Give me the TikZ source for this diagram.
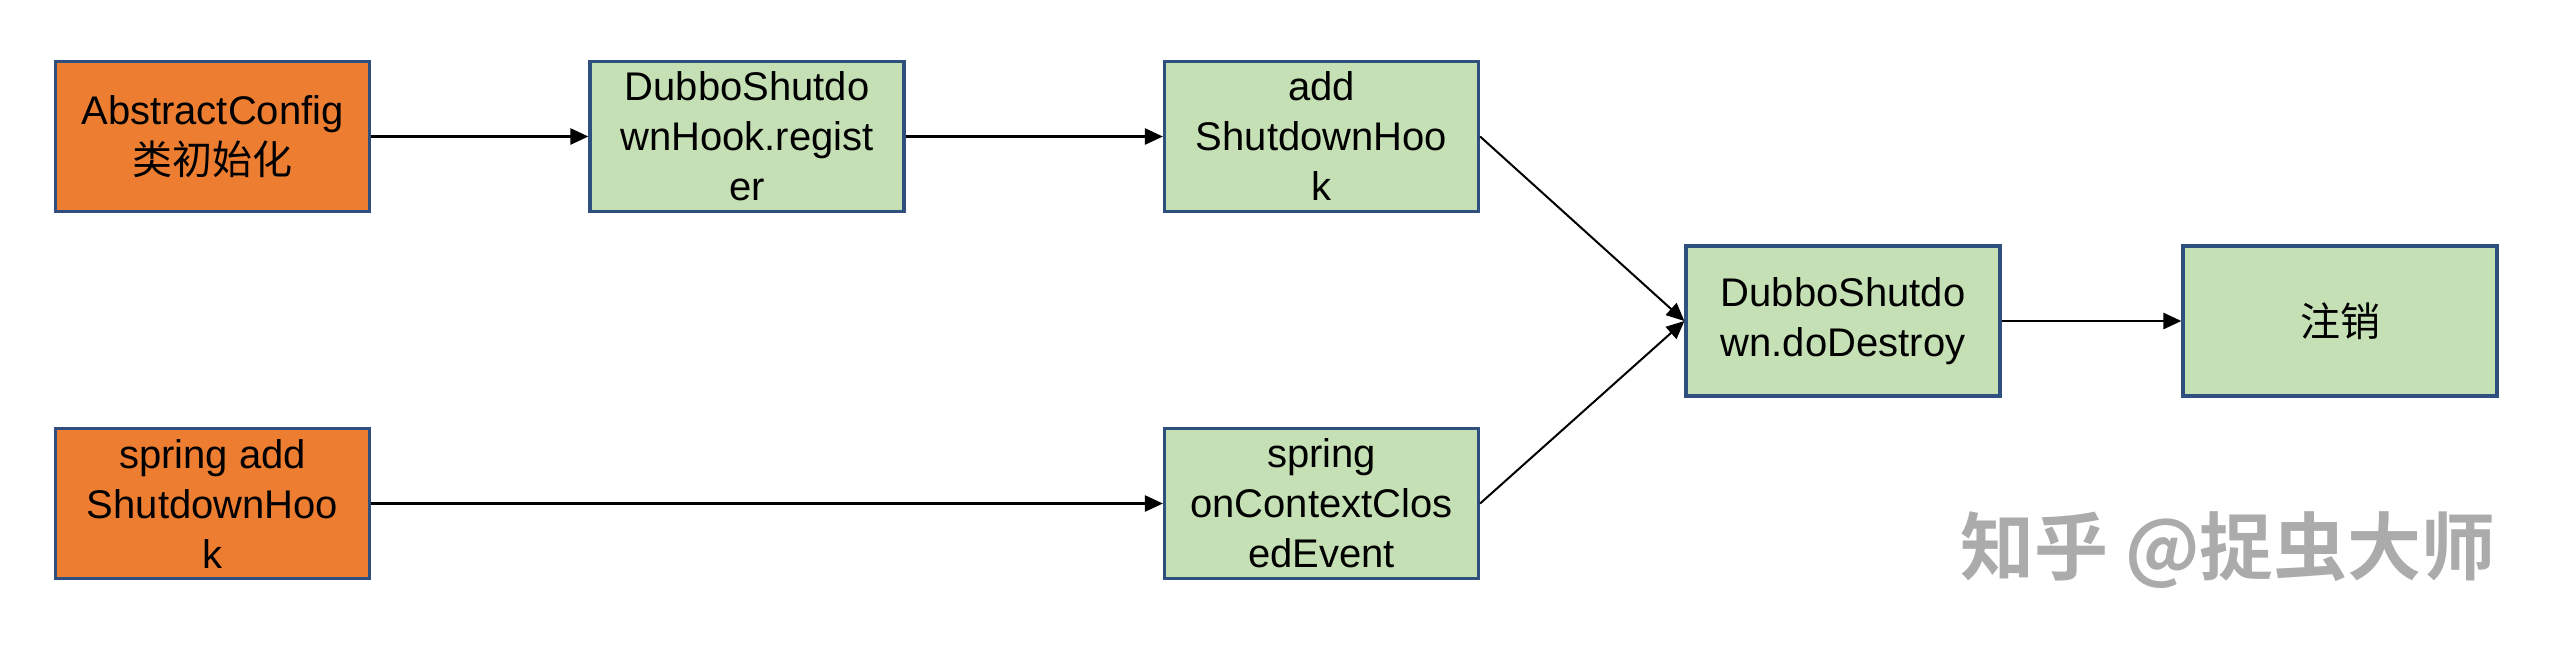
\documentclass[tikz,border=0pt]{standalone}
\usepackage{fontspec}
\setmainfont{Liberation Sans}
\newfontfamily\cjk{Noto Sans CJK SC}
\newfontfamily\cjkb{Noto Sans CJK SC Bold}
\usetikzlibrary{arrows.meta}
\definecolor{boxorange}{HTML}{ED7D31}
\definecolor{boxgreen}{HTML}{C5E0B4}
\definecolor{boxborder}{HTML}{2F4F7F}
\tikzset{
  base/.style={draw=boxborder, line width=1.6pt, minimum width=157pt, minimum height=75pt,
    align=center, inner sep=2pt, font=\fontsize{20}{25}\selectfont},
  orangebox/.style={base, fill=boxorange},
  greenbox/.style={base, fill=boxgreen},
  conn/.style={line width=1.3pt, -{Triangle[length=9pt,width=8pt]}},
  diag/.style={line width=1pt, -{Triangle[length=9pt,width=8pt]}}
}
\begin{document}
\begin{tikzpicture}[x=0.5pt,y=-0.5pt]
\useasboundingbox (0,0) rectangle (2570,654);
\node[orangebox] (a) at (212.5,136.5) {AbstractConfig\\{\cjk 类初始化}};
\node[greenbox] (b) at (747,136.5) {DubboShutdo\\wnHook.regist\\er};
\node[greenbox] (c) at (1321.5,136.5) {add\\ShutdownHoo\\k};
\node[orangebox] (d) at (212.5,503.5) {spring add\\ShutdownHoo\\k};
\node[greenbox] (e) at (1321.5,503.5) {spring\\onContextClos\\edEvent};
\node[greenbox] (f) at (1843,321) {DubboShutdo\\wn.doDestroy};
\node[greenbox] (g) at (2340,321) {\cjk 注销};
\draw[conn] (a) -- (b);
\draw[conn] (b) -- (c);
\draw[conn] (d) -- (e);
\draw[diag] (c.east) -- (f.west);
\draw[diag] (e.east) -- (f.west);
\draw[conn] (f) -- (g);
\node[text=black!33, font=\cjkb\fontsize{37}{40}\selectfont, anchor=center] (w) at (2228,550) {知乎 @捉虫大师};
\end{tikzpicture}
\end{document}
